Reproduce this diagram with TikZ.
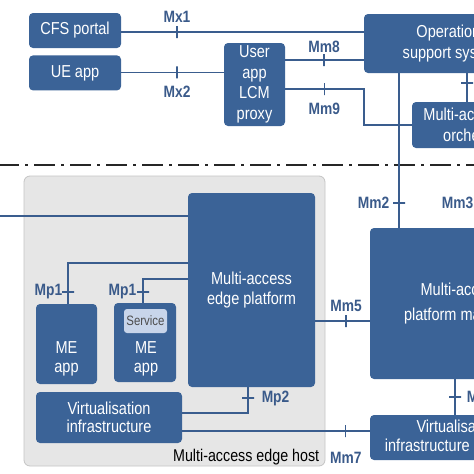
\documentclass[tikz,border=0pt]{standalone}
\usepackage{fontspec}
\setmainfont{Liberation Sans}[FakeStretch=0.84]
\usepackage{tikz}
\usetikzlibrary{positioning}
\usetikzlibrary{calc}
\definecolor{meblue}{HTML}{3B6397}
\definecolor{meline}{HTML}{3A5D8E}
\definecolor{melabel}{HTML}{3A5A8A}
\definecolor{hostgray}{HTML}{E6E6E6}
\definecolor{hostedge}{HTML}{C4C4C4}
\definecolor{svcfill}{HTML}{C8D5EA}
\newcommand{\boxfont}{\fontsize{17.3}{20.5}\selectfont}
\newcommand{\tightfont}{\fontsize{17.3}{18.5}\selectfont}
\newcommand{\widefont}{\fontsize{17.3}{25}\selectfont}
\newcommand{\refpfont}{\fontsize{16.4}{18}\selectfont\bfseries}
\tikzstyle{block} = [rectangle, rounded corners=4pt, fill=meblue, text=white, inner sep=0pt, align=center, font=\boxfont]
\tikzstyle{apptext} = [text=white, inner sep=0pt, align=center, font=\tightfont]
\tikzstyle{hostbox} = [rectangle, rounded corners=6pt, fill=hostgray, draw=hostedge, line width=0.8pt]
\tikzstyle{service} = [rectangle, rounded corners=3pt, fill=svcfill, text=black!70, inner sep=0pt, font=\fontsize{13.6}{15}\selectfont]
\tikzstyle{link} = [draw=meline, line width=1.5pt]
\tikzstyle{vbar} = [rectangle, draw=meline, line width=1.3pt, minimum width=0pt, minimum height=12pt, inner sep=0pt, anchor=center]
\tikzstyle{hbar} = [rectangle, draw=meline, line width=1.3pt, minimum width=12pt, minimum height=0pt, inner sep=0pt, anchor=center]
\tikzstyle{refp} = [text=melabel, font=\refpfont, inner sep=1pt]
\tikzstyle{hostline} = [line width=2pt, black!85, dash pattern=on 21pt off 6pt on 3pt off 6pt]

\begin{document}
\begin{tikzpicture}[x=1pt, y=-1pt]
    \useasboundingbox (0,0) rectangle (474,474);
    \clip (0,0) rectangle (474,474);

    \node [hostbox, minimum width=301pt, minimum height=290pt] (host) at (174.5,321) {};
    \node [anchor=base east, font=\fontsize{17}{20}\selectfont, inner sep=0pt] (hostname) at ([xshift=-6pt,yshift=5pt]host.south east) {Multi-access edge host};

    \node [block, minimum width=92pt, minimum height=35pt] (cfs) at (75,30.5) {CFS portal};
    \node [block, minimum width=92pt, minimum height=35pt, below=7pt of cfs] (ue) {UE app};
    \node [block, minimum width=61pt, minimum height=83pt] (proxy) at (254.5,84.5) {User\\app\\LCM\\proxy};
    \node [block, minimum width=176pt, minimum height=59pt] (oss) at (452,43.5) {Operations\\support system};
    \node [block, minimum width=140pt, minimum height=46pt] (orch) at (482,125) {Multi-access edge\\orchestrator};

    \node [block, minimum width=127pt, minimum height=194pt] (mep) at (251.5,290) {Multi-access\\edge platform};
    \node [block, minimum width=61pt, minimum height=80pt] (app1) at (66.5,344) {};
    \node [block, minimum width=62pt, minimum height=79pt] (app2) at (145,342.5) {};
    \node [service, minimum width=43pt, minimum height=24pt] (svc) at (145.5,321) {Service};
    \node [apptext] (app1txt) at (66.5,359) {ME\\app};
    \node [apptext] (app2txt) at (146,359) {ME\\app};
    \node [block, minimum width=146pt, minimum height=51pt, font=\tightfont] (vi) at (109,417.5) {Virtualisation\\infrastructure};

    \node [block, minimum width=182pt, minimum height=151pt, font=\widefont] (mepm) at (461,303.5) {Multi-access\\platform manager};
    \node [block, minimum width=176pt, minimum height=45pt, font=\tightfont] (vim) at (458,437.5) {Virtualisation\\infrastructure manager};

    % boundary between system level and host level
    \coordinate (cutw) at (-2,165);
    \coordinate (cute) at (476,165);
    \draw [hostline] (cutw) -- (cute);

    \coordinate (x1) at ([yshift=-1.5pt]cfs.east);
    \coordinate (x2) at ([yshift=0.5pt]ue.east);
    \coordinate (m8) at ([yshift=24.5pt]proxy.east);
    \coordinate (m1) at ([xshift=15pt]oss.south);
    \coordinate (m2) at ([xshift=-53pt]oss.south);
    \coordinate (m3) at ([xshift=1pt]orch.south);
    \coordinate (m5) at ([yshift=-31pt]mep.east);
    \coordinate (m6) at ([xshift=-6pt]mepm.south);
    \coordinate (m7) at ([yshift=-13.5pt]vi.east);
    \coordinate (west) at (-5,216);

    \draw [link] (x1) -- node[vbar, pos=.23] {} node[refp, pos=.23, above=8pt] {Mx1} (x1 -| oss.west);
    \draw [link] (x2) -- node[vbar, pos=.544] {} node[refp, pos=.544, below=12pt] {Mx2} (x2 -| proxy.west);
    \draw [link] (m8) -- node[vbar, pos=.494] {} node[refp, pos=.494, above=6pt] {Mm8} (m8 -| oss.west);
    \draw [link] ([yshift=-4.5pt]proxy.east) -- node[vbar, pos=.494] {} node[refp, pos=.494, below=12pt] {Mm9} ++(79,0) |- (orch.west);
    \draw [link] (m1) -- node[hbar, pos=.345] {} (m1 |- orch.north);
    \draw [link] (m2) -- node[hbar, pos=.839] {} node[refp, pos=.839, left=8pt] {Mm2} (m2 |- mepm.north);
    \draw [link] (m3) -- node[hbar, pos=.6875] {} node[refp, pos=.6875, left=8pt] {Mm3} (m3 |- mepm.north);

    \draw [link] (west) -- (west -| mep.west);
    \draw [link] ([yshift=27pt]mep.west) -| node[hbar, pos=.854] {} node[refp, pos=.854, left=4pt] {Mp1} ([xshift=1.5pt]app1.north);
    \draw [link] ([yshift=11pt]mep.west) -| node[hbar, pos=.77] {} node[refp, pos=.77, left=5pt] {Mp1} ([xshift=-2pt]app2.north);
    \draw [link] ([yshift=4.5pt]vi.east) -| node[hbar, pos=.79] {} node[refp, pos=.79, right=12pt] {Mp2} ([xshift=-3.5pt]mep.south);

    \draw [link] (m5) -- node[vbar, pos=.564] {} node[refp, pos=.564, above=8pt] {Mm5} (m5 -| mepm.west);
    \draw [link] (m6) -- node[hbar, pos=.5] {} node[refp, pos=.5, right=10pt] {Mm6} (m6 |- vim.north);
    \draw [link] (m7) -- node[vbar, pos=.872] {} node[refp, pos=.872, below=19pt] {Mm7} (m7 -| vim.west);
\end{tikzpicture}
\end{document}
